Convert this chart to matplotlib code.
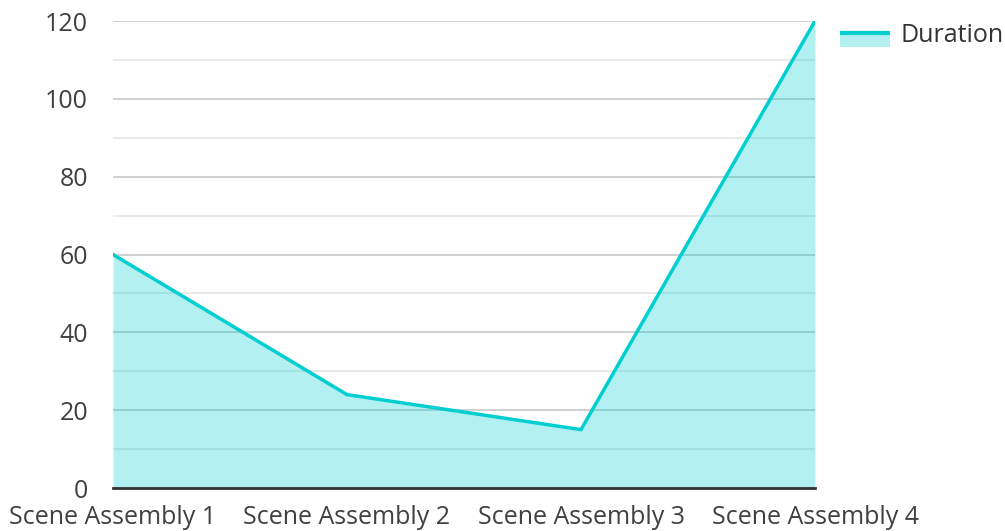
import matplotlib
matplotlib.use("Agg")
import matplotlib.pyplot as plt
from matplotlib.patches import Rectangle
from matplotlib.lines import Line2D
from matplotlib.legend_handler import HandlerBase
from matplotlib.ticker import MultipleLocator

categories = ["Scene Assembly 1", "Scene Assembly 2", "Scene Assembly 3", "Scene Assembly 4"]
duration = [60, 24, 15, 120]
series_name = "Duration"

plt.rcParams['font.family'] = ['Open Sans', 'DejaVu Sans']
line_color = "#00CED1"
fill_color = "#00CED1"


class AreaHandler(HandlerBase):
    def create_artists(self, legend, orig_handle, xdescent, ydescent, width, height, fontsize, trans):
        y0 = -ydescent - height * 0.3
        top = -ydescent + height * 0.5
        rect = Rectangle((-xdescent, y0), width, top - y0,
                         facecolor=fill_color, alpha=0.3, edgecolor='none', transform=trans)
        ln = Line2D([-xdescent, -xdescent + width], [top, top], color=line_color,
                    linewidth=3, transform=trans, solid_capstyle='butt')
        return [rect, ln]


fig = plt.figure(figsize=(10.05, 5.31), dpi=100)
ax = fig.add_axes([113/1005, 1 - 488/531, (815-113)/1005, (488-21)/531])

x = list(range(len(categories)))
ax.fill_between(x, duration, 0, color=fill_color, alpha=0.3, linewidth=0, zorder=2)
line, = ax.plot(x, duration, color=line_color, linewidth=2.5, zorder=3, solid_joinstyle='miter')

ax.set_xlim(0, len(categories) - 1)
ax.set_ylim(0, 120)
ax.set_xticks(x)
ax.set_xticklabels(categories)
ax.yaxis.set_major_locator(MultipleLocator(20))
ax.yaxis.set_minor_locator(MultipleLocator(10))
ax.grid(axis='y', which='major', color='#c8c8c8', linewidth=1.2, zorder=1)
ax.grid(axis='y', which='minor', color='#e6e6e6', linewidth=1.2, zorder=1)
ax.set_axisbelow(True)
for s in ['top', 'right', 'left']:
    ax.spines[s].set_visible(False)
ax.spines['bottom'].set_color('#333333')
ax.spines['bottom'].set_linewidth(2)
ax.spines['bottom'].set_zorder(4)
ax.tick_params(axis='both', which='both', length=0, labelsize=18, colors='#404040')
ax.tick_params(axis='y', pad=18)
ax.tick_params(axis='x', pad=12)

leg = fig.legend([line], [series_name], handler_map={line: AreaHandler()},
                 loc='upper left', bbox_to_anchor=(840/1005, 1 - 23/531), borderpad=0,
                 borderaxespad=0, frameon=False, fontsize=18, handlelength=2.0,
                 handleheight=0.7, handletextpad=0.4, labelcolor='#333333')

fig.savefig("out.png", dpi=100)
